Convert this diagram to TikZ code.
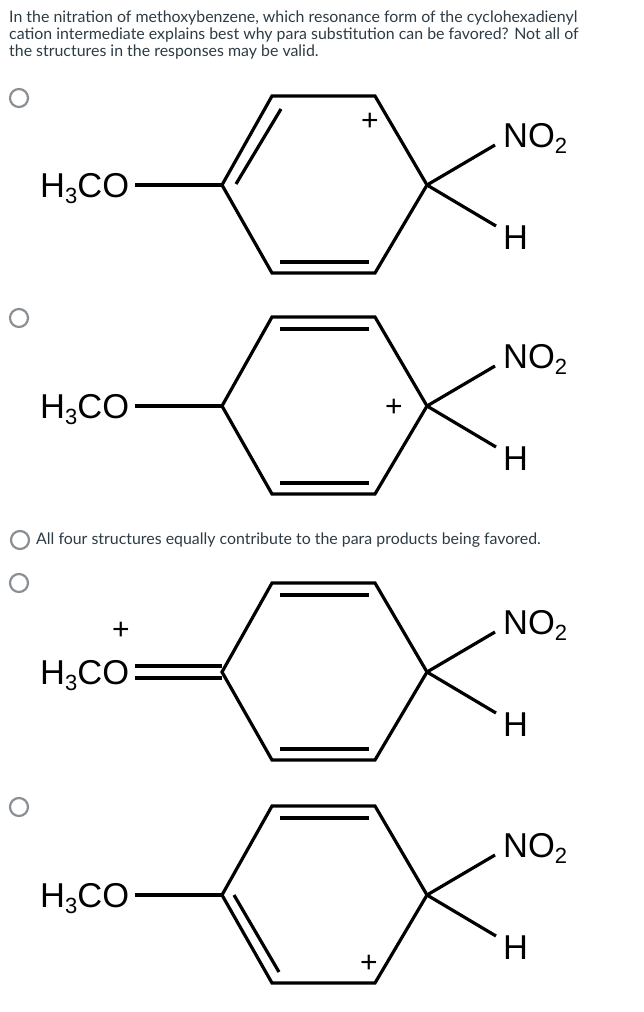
\documentclass[tikz,border=0pt]{standalone}
\usepackage{fontspec}
\setmainfont{Lato}
\newfontfamily\chemfont{Liberation Sans}
\definecolor{radiogray}{HTML}{8A8F94}
\definecolor{bodytext}{HTML}{2D3B45}
\tikzset{
    bond/.style={line width=3.2pt, line join=miter},
    radio/.style={circle, draw=radiogray, line width=2.2pt, fill=white, minimum size=18pt, inner sep=0pt},
    chem/.style={anchor=base west, inner sep=0pt, font=\chemfont\fontsize{34.5}{34.5}\selectfont},
    charge/.style={inner sep=0pt, font=\chemfont\fontsize{30}{30}\selectfont},
    prose/.style={anchor=north west, inner sep=0pt, align=left, text=bodytext, font=\fontsize{15.9}{17}\selectfont},
}
\newcommand{\SubTwo}[1]{\raisebox{-6pt}{\fontsize{22}{22}\selectfont #1}}
\newcommand{\Molecule}[1]{
    \coordinate (left) at (222,#1);
    \coordinate (topl) at (272,#1-89);
    \coordinate (topr) at (375,#1-89);
    \coordinate (right) at (427,#1);
    \coordinate (botr) at (375,#1+88);
    \coordinate (botl) at (272,#1+88);
    \coordinate (oend) at (135,#1);
    \coordinate (nend) at (495,#1-40);
    \coordinate (hend) at (496,#1+41);
    \node[chem] (ome) at (40,#1+12) {H\SubTwo{3}CO};
    \node[chem] (no) at (503,#1-38) {NO\SubTwo{2}};
    \node[chem] (hyd) at (503,#1+64) {H};
    \draw[bond] (topl) -- (topr) -- (right) -- (botr) -- (botl) -- (left) -- cycle;
    \draw[bond] (right) -- (nend);
    \draw[bond] (right) -- (hend);
}
\newcommand{\TopBond}[1]{
    \coordinate (u) at (280,#1-77);
    \coordinate (v) at (369,#1-77);
    \draw[bond] (u) -- (v);
}
\newcommand{\BotBond}[1]{
    \coordinate (u) at (280,#1+77);
    \coordinate (v) at (369,#1+77);
    \draw[bond] (u) -- (v);
}
\begin{document}
\begin{tikzpicture}[x=1pt, y=-1pt]
    \useasboundingbox (0,0) rectangle (644,1012);

    \node[prose] (question) at (9,11) {In the nitration of methoxybenzene, which resonance form of the cyclohexadienyl\\
        cation intermediate explains best why para substitution can be favored? Not all of\\
        the structures in the responses may be valid.};

    \node[radio] (radioa) at (19,98) {};
    \node[radio] (radiob) at (19,318) {};
    \node[radio] (radioc) at (20,540) {};
    \node[radio] (radiod) at (19,583) {};
    \node[radio] (radioe) at (19,807) {};
    \node[prose, anchor=west] (allfour) at (36,540) {All four structures equally contribute to the para products being favored.};

    \begin{scope}[name prefix=first-] % top left double bond
        \Molecule{185}
        \BotBond{185}
        \coordinate (u) at (236,184);
        \coordinate (v) at (281,109);
        \draw[bond] (u) -- (v);
        \draw[bond] (oend) -- (left);
        \node[charge] (plus) at (370,122) {+};
    \end{scope}

    \begin{scope}[name prefix=second-]
        \Molecule{406}
        \TopBond{406}
        \BotBond{406}
        \draw[bond] (oend) -- (left);
        \node[charge] (plus) at (394,408) {+};
    \end{scope}

    \begin{scope}[name prefix=third-] % double bond to the oxygen
        \Molecule{672}
        \TopBond{672}
        \BotBond{672}
        \draw[bond] ([yshift=-6pt]oend) -- ([yshift=-6pt]left);
        \draw[bond] ([yshift=6pt]oend) -- ([yshift=6pt]left);
        \node[charge] (plus) at (121,631) {+};
    \end{scope}

    \begin{scope}[name prefix=fourth-] % bottom left double bond
        \Molecule{895}
        \TopBond{895}
        \coordinate (u) at (234,895);
        \coordinate (v) at (279,972);
        \draw[bond] (u) -- (v);
        \draw[bond] (oend) -- (left);
        \node[charge] (plus) at (369,964) {+};
    \end{scope}
\end{tikzpicture}
\end{document}
